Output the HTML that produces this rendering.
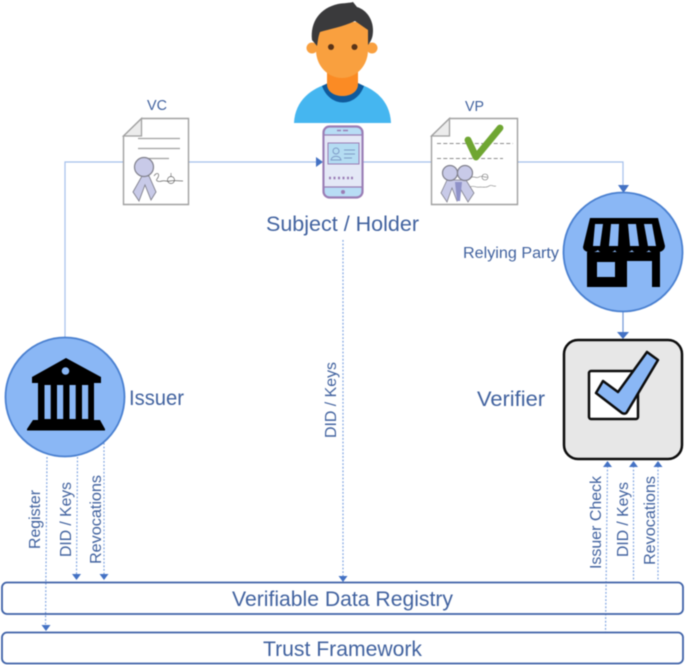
<!DOCTYPE html>
<html>
<head>
<meta charset="utf-8">
<style>
html,body{margin:0;padding:0;background:#fff;}
svg{display:block;filter:blur(0.5px);}
text{font-family:"Liberation Sans",sans-serif;fill:#41629f;}
</style>
</head>
<body>
<svg width="685" height="665" viewBox="0 0 685 665" xmlns="http://www.w3.org/2000/svg">
<!-- solid connectors -->
<g fill="none" stroke="#a5c0ec" stroke-width="1.2">
<path d="M65 337V162H123"/>
<path d="M189 162H318"/>
<path d="M363 162H431"/>
<path d="M518 162H623V186"/>
</g>
<path d="M316 157l7 5l-7 5z" fill="#4472c4"/>
<path d="M618 185h11l-5.500 8z" fill="#4472c4"/>
<path d="M623 312V333" stroke="#6f97d8" stroke-width="1.2"/>
<path d="M617 332h12l-6 7z" fill="#4472c4"/>

<!-- dotted connectors -->
<g fill="none" stroke="#7ea3e0" stroke-width="1.2" stroke-dasharray="1.800 1.800">
<path d="M47 457L45.500 625"/>
<path d="M77.500 457L76.500 574"/>
<path d="M104 443V574"/>
<path d="M343 240V576"/>
<path d="M607.500 466L605.500 632"/>
<path d="M633.500 466V580"/>
<path d="M658 466V580"/>
</g>
<g fill="#4472c4">
<path d="M41.500 625h9l-4.500 6z"/>
<path d="M72 574h9l-4.500 6z"/>
<path d="M99.500 574h9l-4.500 6z"/>
<path d="M338.500 576h9l-4.500 6z"/>
<path d="M603 467h9l-4.500 -6z"/>
<path d="M629 467h9l-4.500 -6z"/>
<path d="M653.500 467h9l-4.500 -6z"/>
</g>

<!-- person -->
<path d="M294 123C295 100 312 88 330 83H356C374 88 390 100 391 123Z" fill="#45b6f0"/>
<path d="M322 86C330 108 356 108 364 86L356 82H330Z" fill="#0f5a9c"/>
<path d="M327 66H358V84C358 100 327 100 327 84Z" fill="#fb8b24"/>
<circle cx="312" cy="48" r="5.500" fill="#f9a03f"/>
<circle cx="372" cy="48" r="5.500" fill="#f9a03f"/>
<path d="M316 22H368V50C368 66 356 78 342 78C328 78 316 66 316 50Z" fill="#f9a03f"/>
<path d="M317 46L312 40C310 22 320 8 338 4C344 3 350 3 353 2L357 7C367 10 373 20 373 30C373 36 372 40 368 45V30L355 21C342 27 330 29 320 32C318 37 318 41 317 46Z" fill="#3a3a3c"/>
<circle cx="331" cy="47" r="3" fill="#5a3418"/>
<circle cx="354.500" cy="47" r="3" fill="#5a3418"/>

<!-- phone -->
<rect x="323.500" y="126.500" width="39" height="71" rx="6" fill="#b8ddf5" stroke="#9a7db5" stroke-width="2.200"/>
<rect x="324.500" y="135" width="37" height="52" fill="#e4e8f6"/>
<path d="M324.500 135H361.500M324.500 187H361.500" stroke="#9a7db5" stroke-width="1.300"/>
<rect x="328" y="143" width="31" height="21" fill="#b4dcf2" stroke="#9a7db5" stroke-width="1"/>
<circle cx="336" cy="151" r="3" fill="none" stroke="#7f9cc8"/>
<path d="M331 160c1-5 9-5 10 0zM344 150h11M344 154h11M344 158h8" fill="none" stroke="#7f9cc8" stroke-width="1"/>
<path d="M329 178h2M333.500 178h2M338 178h2M342.500 178h2M347 178h2M351 178h2" stroke="#9a7db5" stroke-width="2.500"/>
<path d="M337 130.500h4M343 130.500h5" stroke="#9a7db5" stroke-width="1.500"/>
<circle cx="343" cy="192" r="2" fill="#9a7db5"/>

<!-- VC doc -->
<g>
<path d="M141.500 118.500H188.500V204.500H123.500V136Z" fill="#fff" stroke="#a0a0a0" stroke-width="1.400"/>
<path d="M141.500 118.500V136H123.500Z" fill="#ececec" stroke="#a0a0a0" stroke-width="1.300"/>
<path d="M138 138.500H180M138 148.500H180M146 158.500H169" stroke="#a0a0a0" stroke-width="1.200"/>
<path d="M142 176L133 192L139 201L145 185L151 200L156 192L149 176Z" fill="#c8cae8" stroke="#80808c" stroke-width="0.900"/>
<circle cx="144" cy="167" r="9.500" fill="#c8cae8" stroke="#80808c" stroke-width="1.200"/>
<path d="M154 176c3-5 7-2 3 3c-2 2 2 3 5 2c3-1 5 1 8 0s8 0 13 0" fill="none" stroke="#666" stroke-width="0.700"/>
<circle cx="171" cy="180" r="3.500" fill="none" stroke="#666" stroke-width="0.700"/>
<path d="M171 173V177" stroke="#666" stroke-width="0.600"/>
</g>

<!-- VP doc -->
<g>
<path d="M449.500 118.500H517.500V204.500H431.500V136Z" fill="#fff" stroke="#a0a0a0" stroke-width="1.400"/>
<path d="M449.500 118.500V136H431.500Z" fill="#ececec" stroke="#a0a0a0" stroke-width="1.300"/>
<path d="M437 143.500H513M437 158.500H503" stroke="#8c8c8c" stroke-width="1.100" stroke-dasharray="4 2.300"/>
<path d="M447 180L441 193L447 202L452 188L457 201L461 190L468 202L474 193L466 180Z" fill="#c8cae8" stroke="#80808c" stroke-width="0.800"/>
<path d="M455 182L462 182L460 201H457Z" fill="#8f92c8"/>
<circle cx="450" cy="173" r="7.500" fill="#c8cae8" stroke="#80808c" stroke-width="1.200"/>
<circle cx="465" cy="173" r="7.500" fill="#c8cae8" stroke="#80808c" stroke-width="1.200"/>
<path d="M470 178c3-3 6 1 9-1s5 1 9 0M470 187c4-2 6 1 10 0c3 0 6 1 9-1s4 1 7 0" fill="none" stroke="#777" stroke-width="0.600"/>
<circle cx="485" cy="177" r="3" fill="none" stroke="#777" stroke-width="0.600"/>
<path d="M468 140L476 157L500 128" fill="none" stroke="#6fa632" stroke-width="6.800" stroke-linecap="round" stroke-linejoin="round"/>
</g>

<!-- Issuer -->
<circle cx="65" cy="397" r="59.500" fill="#8ab7f5" stroke="#4a80d0" stroke-width="1.800"/>
<g fill="#000">
<path d="M66 358L101 377V383H32V377Z"/>
<path d="M38 383H94V420H38Z"/>
<path d="M33 420H100L105 429V430.500H27V429Z"/>
</g>
<circle cx="65.500" cy="371" r="3.800" fill="#8ab7f5"/>
<g fill="#8ab7f5">
<rect x="44.500" y="385" width="6.200" height="34"/>
<rect x="57" y="385" width="6.200" height="34"/>
<rect x="69.500" y="385" width="6.200" height="34"/>
<rect x="82" y="385" width="6.200" height="34"/>
</g>

<!-- Relying party -->
<circle cx="623" cy="252" r="59.500" fill="#8ab7f5" stroke="#4a80d0" stroke-width="1.800"/>
<path d="M590 218H658L665 246C665 254 650 254 649 250C646 254 634 254 632 250C628 254 616 254 615 250C612 254 600 254 598 250C594 254 583 253 583 247Z" fill="#000"/>
<g fill="#8ab7f5">
<path d="M595 224H603L600 246H593Z"/>
<path d="M611 224H619L618 246H609Z"/>
<path d="M628 224H636L639 246H630Z"/>
<path d="M644 224H652L656 246H648Z"/>
</g>
<path d="M587 252H660V287H652V261H627V287H587Z" fill="#000"/>
<rect x="597" y="262" width="18" height="15" fill="#8ab7f5"/>

<!-- Verifier -->
<rect x="564" y="340" width="118" height="119" rx="14" fill="#e7e7e7" stroke="#0c0c0c" stroke-width="2.500"/>
<rect x="589" y="371" width="49" height="48" rx="2" fill="#fff" stroke="#0c0c0c" stroke-width="2.500"/>
<path d="M596 393L603 381L618 392L647 352L658 360L627 412C626 414 624 414 622 413Z" fill="#8ab7f5" stroke="#0c0c0c" stroke-width="2.500" stroke-linejoin="round"/>

<!-- Bars -->
<rect x="2" y="582.500" width="681" height="31.500" rx="5" fill="none" stroke="#3f62a8" stroke-width="1.800"/>
<rect x="2" y="632.500" width="681" height="31" rx="5" fill="none" stroke="#3f62a8" stroke-width="1.800"/>

<!-- Labels -->
<g>
<text x="266" y="231" font-size="21.500" textLength="153" lengthAdjust="spacingAndGlyphs">Subject / Holder</text>
<text x="147" y="110" font-size="15" textLength="20" lengthAdjust="spacingAndGlyphs">VC</text>
<text x="465" y="111" font-size="15" textLength="19" lengthAdjust="spacingAndGlyphs">VP</text>
<text x="463" y="258" font-size="15.500" textLength="96" lengthAdjust="spacingAndGlyphs">Relying Party</text>
<text x="129" y="405" font-size="21" textLength="55" lengthAdjust="spacingAndGlyphs">Issuer</text>
<text x="477" y="406" font-size="21" textLength="68" lengthAdjust="spacingAndGlyphs">Verifier</text>
<text x="232" y="606" font-size="21" textLength="221" lengthAdjust="spacingAndGlyphs">Verifiable Data Registry</text>
<text x="263" y="656" font-size="21" textLength="159" lengthAdjust="spacingAndGlyphs">Trust Framework</text>

<text transform="translate(40 549) rotate(-90)" font-size="15.500" textLength="59" lengthAdjust="spacingAndGlyphs">Register</text>
<text transform="translate(71 557) rotate(-90)" font-size="15.500" textLength="75" lengthAdjust="spacingAndGlyphs">DID / Keys</text>
<text transform="translate(101 564) rotate(-90)" font-size="15.500" textLength="89" lengthAdjust="spacingAndGlyphs">Revocations</text>
<text transform="translate(336 438) rotate(-90)" font-size="15.500" textLength="76" lengthAdjust="spacingAndGlyphs">DID / Keys</text>
<text transform="translate(601 569) rotate(-90)" font-size="15.500" textLength="93" lengthAdjust="spacingAndGlyphs">Issuer Check</text>
<text transform="translate(628 557) rotate(-90)" font-size="15.500" textLength="75" lengthAdjust="spacingAndGlyphs">DID / Keys</text>
<text transform="translate(655 565) rotate(-90)" font-size="15.500" textLength="89" lengthAdjust="spacingAndGlyphs">Revocations</text>
</g>
</svg>
</body>
</html>
